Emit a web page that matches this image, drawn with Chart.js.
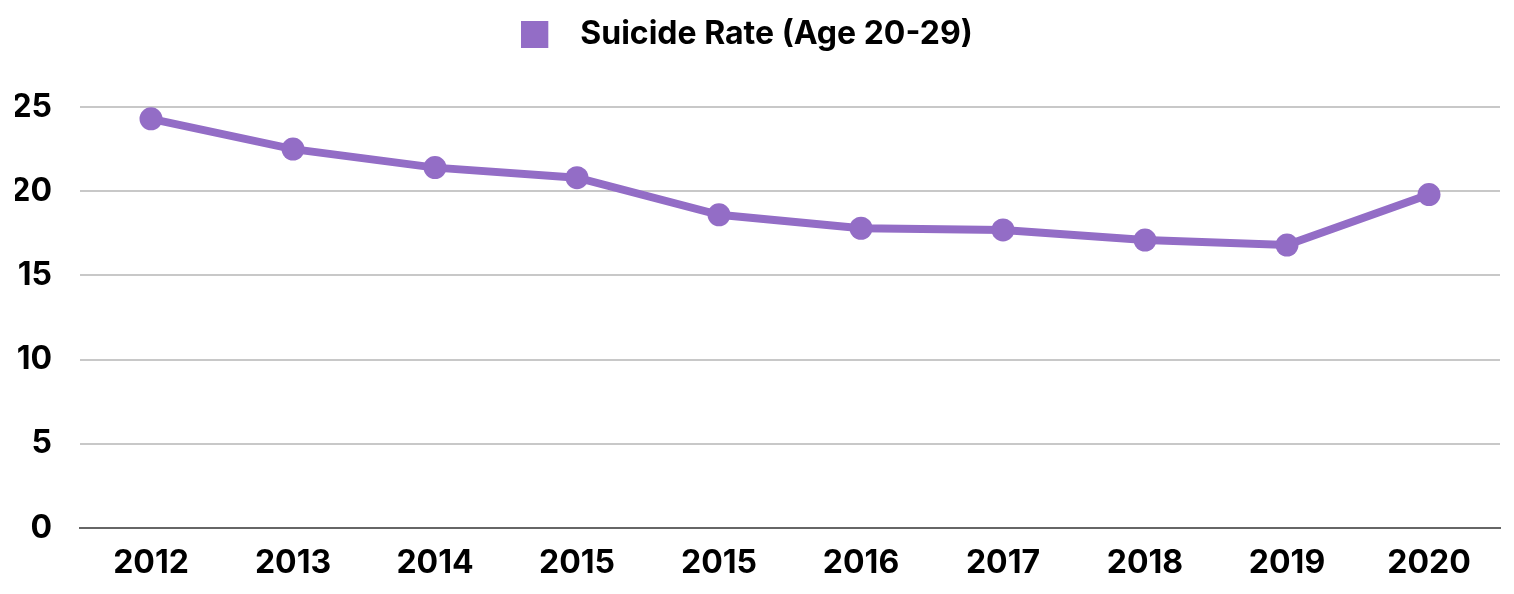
<!DOCTYPE html>
<html>
<head>
<meta charset="utf-8">
<script src="https://cdn.jsdelivr.net/npm/chart.js@4"></script>
<style>
  html, body { margin: 0; padding: 0; background: #fff; }
  #wrap { width: 1514px; height: 594px; }
</style>
</head>
<body>
<div id="wrap"><canvas id="grafico"></canvas></div>
<script>
// datos
const years = ['2012', '2013', '2014', '2015', '2015', '2016', '2017', '2018', '2019', '2020'];
const suicideRate = [24.3, 22.5, 21.4, 20.8, 18.6, 17.8, 17.7, 17.1, 16.8, 19.8];
const seriesName = 'Suicide Rate (Age 20-29)';
const yTicks = [0, 5, 10, 15, 20, 25];

const purple = '#936dc6';
const fuente = 'Inter, "Noto Sans", sans-serif';

// cuadrito de la leyenda: 27px morado + hueco transparente a la derecha
const cuadro = document.createElement('canvas');
cuadro.width = 43;
cuadro.height = 27;
const cctx = cuadro.getContext('2d');
cctx.fillStyle = purple;
cctx.fillRect(0, 0, 27, 27);

// alto fijo de la leyenda y un pequeño corrimiento a la izquierda
const ajusteLeyenda = {
    id: 'ajusteLeyenda',
    beforeInit(chart) {
        const fitOriginal = chart.legend.fit;
        chart.legend.fit = function () {
            fitOriginal.bind(this)();
            this.height = 107;
        };
    },
    afterLayout(chart) {
        chart.legend.right -= 21;
    }
};

const config = {
    type: 'line',
    data: {
        labels: years,
        datasets: [{
            label: seriesName,
            data: suicideRate,
            borderColor: purple,
            backgroundColor: purple,
            borderWidth: 8,
            pointRadius: 11.5,
            pointHoverRadius: 11.5,
            pointBorderWidth: 0,
            pointStyle: 'circle',
            tension: 0
        }]
    },
    options: {
        responsive: true,
        maintainAspectRatio: false,
        animation: false,
        layout: { padding: { left: 15, right: 14, top: 0, bottom: 0 } },
        plugins: {
            legend: {
                position: 'top',
                labels: {
                    usePointStyle: true,
                    pointStyleWidth: 43,
                    boxHeight: 27,
                    padding: 18,
                    color: '#000',
                    font: { family: fuente, size: 32, weight: '700' },
                    generateLabels: (chart) => [{
                        text: seriesName,
                        pointStyle: cuadro,
                        fillStyle: purple,
                        strokeStyle: purple,
                        lineWidth: 0,
                        hidden: false,
                        datasetIndex: 0
                    }]
                }
            },
            tooltip: { enabled: false }
        },
        scales: {
            x: {
                offset: true,
                grid: { display: false, drawTicks: false },
                border: { display: true, color: '#666', width: 2 },
                ticks: {
                    padding: 16,
                    color: '#000',
                    font: { family: fuente, size: 32, weight: '700' }
                },
                afterFit: (scale) => {
                    scale.height = 66;
                    scale.paddingLeft = 0;
                    scale.paddingRight = 0;
                }
            },
            y: {
                min: 0,
                max: 25,
                afterBuildTicks: (axis) => { axis.ticks = yTicks.map(v => ({ value: v })); },
                afterFit: (scale) => { scale.width = 65; },
                grid: {
                    color: (ctx) => ctx.tick && ctx.tick.value === 0 ? '#666' : '#c8c8c8',
                    lineWidth: 2,
                    drawTicks: false
                },
                border: { display: false },
                ticks: {
                    padding: 28,
                    color: '#000',
                    font: { family: fuente, size: 32, weight: '700' }
                }
            }
        }
    },
    plugins: [ajusteLeyenda]
};

new Chart(document.getElementById('grafico').getContext('2d'), config);
</script>
</body>
</html>
